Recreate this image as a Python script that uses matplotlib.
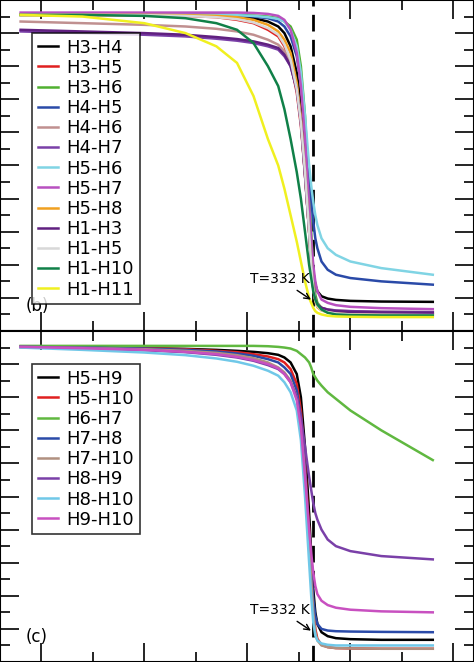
import matplotlib
matplotlib.use("Agg")
import matplotlib.pyplot as plt
from matplotlib.ticker import MultipleLocator

T = [190,220,250,270,285,295,303,310,315,318,321,324,326,328,330,331,332,333,334,336,339,343,350,365,390]

top_labels = ["H3-H4","H3-H5","H3-H6","H4-H5","H4-H6","H4-H7","H5-H6","H5-H7","H5-H8","H1-H3","H1-H5","H1-H10","H1-H11"]
top_colors = ["#000000","#e02020","#50b030","#2a4aa8","#c09090","#7a40a8","#80d4e4","#b850c0","#f0a020","#602080","#d8d8d8","#108048","#f0f020"]
top_vals = [
 [0.955,0.955,0.955,0.954,0.953,0.95,0.945,0.935,0.92,0.9,0.86,0.78,0.68,0.52,0.33,0.24,0.18,0.14,0.12,0.105,0.098,0.094,0.091,0.089,0.088],
 [0.955,0.955,0.954,0.952,0.948,0.94,0.93,0.91,0.89,0.86,0.81,0.72,0.62,0.47,0.3,0.2,0.13,0.095,0.078,0.066,0.06,0.056,0.053,0.051,0.05],
 [0.957,0.957,0.957,0.957,0.956,0.955,0.953,0.95,0.945,0.935,0.92,0.88,0.8,0.65,0.42,0.3,0.18,0.11,0.085,0.07,0.063,0.06,0.058,0.056,0.055],
 [0.957,0.957,0.957,0.956,0.955,0.953,0.95,0.945,0.935,0.92,0.89,0.83,0.75,0.62,0.47,0.4,0.33,0.28,0.25,0.21,0.185,0.17,0.16,0.15,0.14],
 [0.935,0.93,0.925,0.92,0.913,0.905,0.895,0.88,0.865,0.845,0.81,0.74,0.64,0.48,0.3,0.2,0.13,0.095,0.08,0.07,0.065,0.062,0.06,0.058,0.057],
 [0.905,0.9,0.895,0.89,0.883,0.877,0.87,0.86,0.85,0.83,0.8,0.73,0.63,0.47,0.3,0.2,0.13,0.095,0.08,0.07,0.065,0.062,0.06,0.058,0.057],
 [0.957,0.957,0.957,0.956,0.955,0.954,0.952,0.948,0.943,0.935,0.91,0.86,0.78,0.65,0.5,0.44,0.39,0.35,0.32,0.28,0.25,0.23,0.21,0.19,0.17],
 [0.962,0.962,0.962,0.962,0.962,0.962,0.961,0.958,0.952,0.94,0.91,0.84,0.74,0.58,0.38,0.28,0.2,0.15,0.12,0.095,0.085,0.078,0.073,0.069,0.066],
 [0.955,0.955,0.955,0.954,0.952,0.948,0.94,0.925,0.905,0.88,0.84,0.75,0.64,0.48,0.3,0.2,0.13,0.09,0.072,0.062,0.057,0.054,0.052,0.05,0.05],
 [0.91,0.905,0.9,0.895,0.888,0.882,0.875,0.865,0.855,0.835,0.8,0.73,0.63,0.47,0.3,0.2,0.13,0.095,0.08,0.07,0.064,0.06,0.058,0.056,0.055],
 [0.955,0.955,0.954,0.952,0.948,0.942,0.932,0.915,0.895,0.865,0.82,0.73,0.63,0.48,0.3,0.2,0.13,0.092,0.075,0.063,0.057,0.053,0.05,0.049,0.048],
 [0.955,0.955,0.952,0.945,0.93,0.91,0.87,0.8,0.74,0.67,0.58,0.48,0.4,0.3,0.2,0.16,0.12,0.095,0.08,0.065,0.055,0.05,0.048,0.047,0.047],
 [0.955,0.95,0.93,0.9,0.86,0.81,0.71,0.58,0.5,0.43,0.35,0.27,0.21,0.15,0.1,0.085,0.07,0.06,0.055,0.05,0.046,0.044,0.043,0.042,0.042],
]

bot_labels = ["H5-H9","H5-H10","H6-H7","H7-H8","H7-H10","H8-H9","H8-H10","H9-H10"]
bot_colors = ["#000000","#e02020","#60b840","#2a4aa8","#b09080","#7a40a8","#70c8e8","#c850c0"]
bot_vals = [
 [0.952,0.95,0.948,0.946,0.943,0.94,0.937,0.933,0.928,0.92,0.905,0.87,0.8,0.65,0.45,0.33,0.22,0.15,0.115,0.09,0.078,0.072,0.069,0.067,0.067],
 [0.952,0.95,0.948,0.945,0.94,0.936,0.93,0.923,0.915,0.905,0.885,0.84,0.76,0.6,0.4,0.28,0.17,0.1,0.07,0.052,0.045,0.042,0.041,0.04,0.04],
 [0.955,0.955,0.955,0.955,0.955,0.955,0.955,0.954,0.952,0.95,0.947,0.94,0.93,0.92,0.905,0.89,0.87,0.86,0.85,0.835,0.815,0.795,0.76,0.70,0.61],
 [0.952,0.95,0.947,0.943,0.938,0.932,0.925,0.915,0.905,0.89,0.87,0.82,0.74,0.58,0.38,0.28,0.19,0.14,0.115,0.1,0.095,0.093,0.092,0.091,0.09],
 [0.952,0.949,0.945,0.94,0.934,0.927,0.918,0.905,0.89,0.875,0.85,0.8,0.72,0.56,0.36,0.25,0.15,0.09,0.065,0.05,0.045,0.042,0.041,0.04,0.04],
 [0.952,0.948,0.942,0.936,0.928,0.92,0.91,0.897,0.885,0.87,0.845,0.8,0.74,0.65,0.56,0.52,0.48,0.45,0.43,0.4,0.37,0.35,0.335,0.32,0.31],
 [0.95,0.943,0.935,0.927,0.917,0.907,0.895,0.88,0.865,0.845,0.815,0.76,0.67,0.5,0.3,0.2,0.12,0.08,0.065,0.056,0.052,0.05,0.05,0.05,0.05],
 [0.952,0.948,0.943,0.937,0.93,0.922,0.912,0.9,0.887,0.87,0.845,0.79,0.71,0.56,0.4,0.33,0.27,0.23,0.205,0.185,0.172,0.164,0.158,0.153,0.15],
]

Tc = 332

fig = plt.figure(figsize=(4.74, 6.62), dpi=100)
ax1 = fig.add_axes([0.0, 0.5, 1.0, 0.5])
ax2 = fig.add_axes([0.0, 0.0, 1.0, 0.5])

def style(ax):
    ax.set_xlim(180, 410)
    ax.set_ylim(0, 1)
    ax.xaxis.set_major_locator(MultipleLocator(50))
    ax.xaxis.set_minor_locator(MultipleLocator(25))
    ax.yaxis.set_major_locator(MultipleLocator(0.1))
    ax.yaxis.set_minor_locator(MultipleLocator(0.05))
    ax.tick_params(which="both", direction="in", top=True, right=True,
                   labelbottom=False, labelleft=False, width=1.2)
    ax.tick_params(which="major", length=14)
    ax.tick_params(which="minor", length=7)
    for s in ax.spines.values():
        s.set_linewidth(1.5)
    ax.axvline(Tc, color="black", lw=2, ls=(0, (6, 3)))

for ax, labels, colors, vals, tag in [(ax1, top_labels, top_colors, top_vals, "(b)"),
                                      (ax2, bot_labels, bot_colors, bot_vals, "(c)")]:
    style(ax)
    for lab, c, v in zip(labels, colors, vals):
        ax.plot(T, v, color=c, lw=1.8, label=lab)
    leg = ax.legend(loc="upper left", bbox_to_anchor=(0.068, 0.9), frameon=True, fancybox=False,
                    edgecolor="black", fontsize=13, handlelength=1.1, handletextpad=0.5,
                    labelspacing=0.12, borderpad=0.3, borderaxespad=0)
    leg.get_frame().set_linewidth(1.2)
    ax.text(0.055, 0.06, tag, transform=ax.transAxes, fontsize=12)
    ax.annotate("T=332 K", xy=(Tc, 0.09), xytext=(316, 0.145), fontsize=10, ha="center",
                arrowprops=dict(arrowstyle="->", color="black", lw=1))

fig.savefig("out.png", dpi=100)
